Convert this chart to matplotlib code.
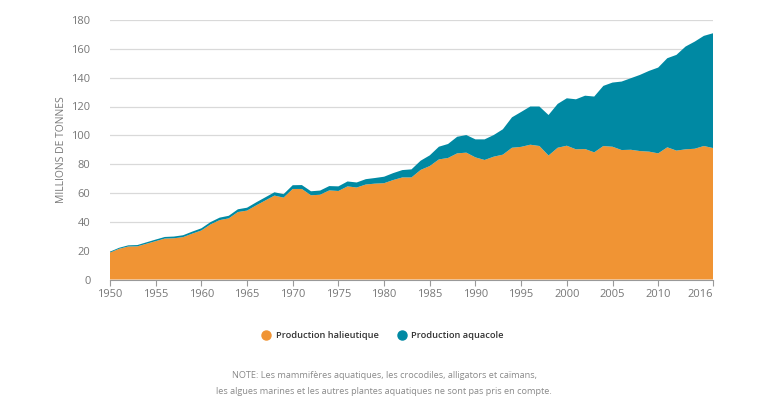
import numpy as np
import matplotlib.pyplot as plt

plt.rcParams['font.family'] = ['Open Sans', 'DejaVu Sans']

years = np.arange(1950, 2017)

# capture fisheries, million tonnes
capture = [18.7, 21.3, 22.9, 23.0, 24.8, 26.6, 28.4, 28.6, 29.4, 31.8,
           34.0, 38.2, 41.2, 42.4, 46.8, 47.8, 51.4, 54.8, 58.2, 56.8,
           62.8, 62.8, 58.4, 58.8, 61.8, 61.4, 64.6, 63.8, 65.9, 66.5,
           66.8, 69.0, 70.8, 70.8, 76.0, 78.7, 83.3, 84.3, 87.5, 88.0,
           84.7, 82.9, 85.2, 86.6, 91.4, 92.0, 93.5, 92.6, 86.0, 91.4,
           92.8, 90.3, 90.5, 88.2, 92.6, 92.1, 89.8, 90.0, 89.1, 88.7,
           87.5, 91.7, 89.4, 90.3, 90.7, 92.6, 91.2]

# aquaculture, million tonnes
aquaculture = [0.6, 0.7, 0.8, 0.9, 1.0, 1.1, 1.1, 1.2, 1.3, 1.4,
               1.5, 1.6, 1.7, 1.8, 1.9, 2.0, 2.1, 2.2, 2.3, 2.4,
               2.6, 2.7, 2.8, 2.9, 3.0, 3.2, 3.4, 3.5, 3.7, 3.9,
               4.5, 4.8, 5.1, 5.6, 6.4, 7.4, 8.8, 9.7, 11.5, 12.2,
               12.5, 14.3, 15.0, 17.6, 21.1, 24.2, 26.5, 27.4, 28.1, 30.4,
               32.9, 34.7, 37.0, 38.7, 41.7, 44.5, 47.5, 49.6, 52.8, 56.0,
               59.5, 61.8, 66.4, 71.3, 74.3, 76.4, 79.6]

labels = ['Production halieutique', 'Production aquacole']
colors = ['#F09434', '#0089A3']
xticks = [1950, 1955, 1960, 1965, 1970, 1975, 1980, 1985, 1990, 1995,
          2000, 2005, 2010, 2016]

fig = plt.figure(figsize=(7.68, 4.09), dpi=100)
ax = fig.add_axes([110/768, 1 - 279.5/409, (713 - 110)/768, (279.5 - 20)/409])

ax.stackplot(years, capture, aquaculture, colors=colors, linewidth=0)

ax.set_xlim(1950, 2016)
ax.set_ylim(0, 180)
ax.set_yticks(np.arange(0, 181, 20))
ax.set_xticks(xticks)
ax.set_xticklabels([str(y) for y in xticks])
ax.get_xticklabels()[-1].set_horizontalalignment('right')

ax.grid(axis='y', color='#d9d9d9', linewidth=0.9)
ax.set_axisbelow(True)
for s in ['top', 'right', 'left']:
    ax.spines[s].set_visible(False)
ax.spines['bottom'].set_color('#999999')
ax.tick_params(axis='y', length=0, pad=14, labelsize=8, labelcolor='#777777')
ax.tick_params(axis='x', length=4, color='#999999', pad=3, labelsize=8,
               labelcolor='#777777')
ax.set_ylabel('MILLIONS DE TONNES', fontsize=7.5, color='#777777', labelpad=3)

# legend
handles = [plt.Line2D([], [], marker='o', linestyle='', markersize=6.5,
                      color=c) for c in colors]
fig.legend(handles, labels, loc='center', bbox_to_anchor=(381.5/768, 1 - 336/409),
           ncol=2, frameon=False, handlelength=1.5, handletextpad=0.3,
           columnspacing=1.7, labelcolor='#333333',
           prop={'weight': 'semibold', 'size': 6.7})

fig.text(0.5, 1 - 375/409,
         'NOTE: Les mammifères aquatiques, les crocodiles, alligators et caïmans,',
         ha='center', va='center', fontsize=6.6, color='#8a8a8a')
fig.text(0.5, 1 - 391/409,
         'les algues marines et les autres plantes aquatiques ne sont pas pris en compte.',
         ha='center', va='center', fontsize=6.6, color='#8a8a8a')

fig.savefig('out.png', dpi=100)
